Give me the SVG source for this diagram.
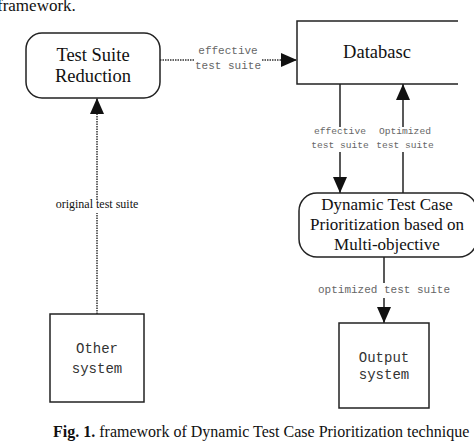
<svg xmlns="http://www.w3.org/2000/svg" width="474" height="442" viewBox="0 0 474 442">
<defs>
<style>
.box{fill:#fff;stroke:#222;stroke-width:1.5}
.serif{font-family:"Liberation Serif","Times New Roman",serif;fill:#111}
.mono{font-family:"Liberation Mono","Courier New",monospace;fill:#666;font-size:11px}
.mono2{font-family:"Liberation Mono","Courier New",monospace;fill:#666;font-size:9.6px}
.monob{font-family:"Liberation Mono","Courier New",monospace;fill:#333;font-size:14px}
.solid{stroke:#222;stroke-width:1.5;fill:none}
.dot{stroke:#333;stroke-width:1.5;fill:none;stroke-dasharray:1.5 1}
</style>
<marker id="ah" viewBox="0 0 16 14" refX="16" refY="7" markerWidth="16" markerHeight="14" markerUnits="userSpaceOnUse" orient="auto">
<path d="M0,0 L16,7 L0,14 Z" fill="#111"/>
</marker>
</defs>
<rect width="474" height="442" fill="#fff"/>
<text class="serif" x="-3" y="11" font-size="17">framework.</text>

<g id="connectors">
<line class="dot" x1="160" y1="60" x2="195" y2="60"/>
<line class="dot" x1="262" y1="60" x2="297" y2="60" marker-end="url(#ah)"/>
<text class="mono" x="228" y="54" text-anchor="middle">effective</text>
<text class="mono" x="228" y="69" text-anchor="middle">test suite</text>

<line class="solid" x1="340" y1="84" x2="340" y2="127"/>
<line class="solid" x1="340" y1="152" x2="340" y2="193" marker-end="url(#ah)"/>
<text class="mono2" x="340" y="134" text-anchor="middle">effective</text>
<text class="mono2" x="340" y="148" text-anchor="middle">test suite</text>

<line class="solid" x1="403" y1="193" x2="403" y2="152"/>
<line class="solid" x1="403" y1="127" x2="403" y2="84" marker-end="url(#ah)"/>
<text class="mono2" x="405" y="134" text-anchor="middle">Optimized</text>
<text class="mono2" x="405" y="148" text-anchor="middle">test suite</text>

<line class="solid" x1="384" y1="257" x2="384" y2="283"/>
<line class="solid" x1="384" y1="298" x2="384" y2="323" marker-end="url(#ah)"/>
<text class="mono" x="384" y="293" text-anchor="middle">optimized test suite</text>

<line class="dot" x1="97" y1="314" x2="97" y2="213"/>
<line class="dot" x1="97" y1="200" x2="97" y2="98" marker-end="url(#ah)"/>
<text class="serif" x="97" y="208" font-size="12" text-anchor="middle">original test suite</text>
</g>

<g id="tsr">
<rect class="box" x="26" y="33" width="134" height="65" rx="16"/>
<text class="serif" x="93" y="61" font-size="18.5" text-anchor="middle">Test Suite</text>
<text class="serif" x="93" y="82" font-size="18.5" text-anchor="middle">Reduction</text>
</g>

<g id="database">
<path class="solid" d="M458,21 H297 V84 H458"/>
<text class="serif" x="377" y="58" font-size="18.5" text-anchor="middle">Databasc</text>
</g>

<g id="dtcp">
<rect class="box" x="299" y="193" width="178" height="64" rx="18"/>
<text class="serif" x="387" y="210" font-size="17" text-anchor="middle">Dynamic Test Case</text>
<text class="serif" x="387" y="230" font-size="17" text-anchor="middle">Prioritization based on</text>
<text class="serif" x="387" y="250" font-size="17" text-anchor="middle">Multi-objective</text>
</g>

<g id="output">
<rect class="box" x="339" y="323" width="90" height="85"/>
<text class="monob" x="384" y="362" text-anchor="middle">Output</text>
<text class="monob" x="384" y="379" text-anchor="middle">system</text>
</g>

<g id="other">
<rect class="box" x="50" y="314" width="94" height="88"/>
<text class="monob" x="97" y="353" text-anchor="middle">Other</text>
<text class="monob" x="97" y="373" text-anchor="middle">system</text>
</g>

<text class="serif" x="53" y="437" font-size="16"><tspan font-weight="bold">Fig. 1.</tspan> framework of Dynamic Test Case Prioritization technique</text>
</svg>
